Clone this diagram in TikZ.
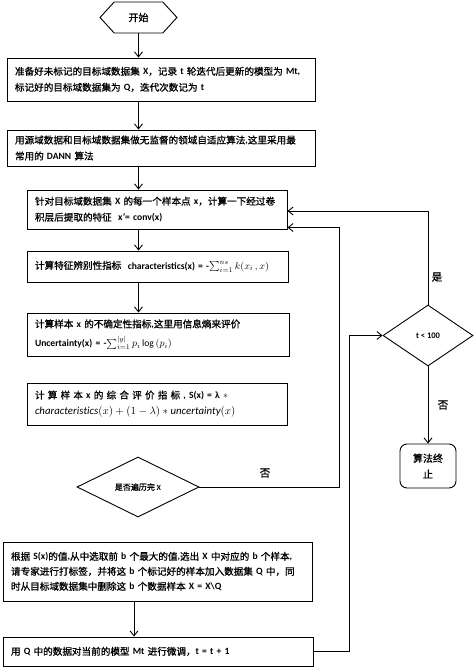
\documentclass[tikz,border=0pt]{standalone}
\usepackage{fontspec}
\setmainfont{Carlito}
\newfontfamily\zhf{Noto Sans CJK SC}[FakeBold=1]
\newcommand\zh[1]{{\zhf\mdseries #1}}
\usetikzlibrary{arrows.meta,shapes.geometric,shapes.symbols}
\tikzset{
  ln/.style={line width=0.9pt},
  arr/.style={ln,-{Straight Barb[length=5pt,width=8pt]}},
  box/.style={draw,ln,inner xsep=8pt,inner ysep=0pt,align=left,font=\fontsize{9.6}{16}\selectfont\bfseries},
  dia/.style={draw,ln,diamond,inner sep=0pt,font=\fontsize{8}{10}\selectfont\bfseries},
  lbl/.style={font=\fontsize{10.5}{12}\selectfont},
}
\begin{document}
\begin{tikzpicture}[x=1pt,y=-1pt]
\useasboundingbox (0,0) rectangle (474,669);
% start
\node[draw,ln,signal,signal to=east and west,signal pointer angle=95,minimum width=77pt,minimum height=31pt,inner sep=0pt,font=\fontsize{10}{12}\selectfont] (start) at (138.5,17.5) {\zh{开始}};
% boxes
\node[box,text width=292pt,minimum height=43pt] (b1) at (161,79.5)
 {\zh{准备好未标记的目标域数据集} X\zh{，记录} t \zh{轮迭代后更新的模型为} Mt,\\
  \zh{标记好的目标域数据集为} Q\zh{，迭代次数记为} t};
\node[box,text width=292pt,minimum height=36pt] (b2) at (161,148)
 {\zh{用源域数据和目标域数据集做无监督的领域自适应算法},\zh{这里采用最}\\
  \zh{常用的} DANN \zh{算法}};
\node[box,text width=244pt,minimum height=39pt] (b3) at (157,209.5)
 {\zh{针对目标域数据集} X \zh{的每一个样本点} x\zh{，计算一下经过卷}\\
  \zh{积层后提取的特征}\ \ x’= conv(x)};
\node[box,text width=245pt,minimum height=31pt] (b4) at (157.5,266.5)
 {\zh{计算特征辨别性指标}\ \ characteristics(x) = -$\sum_{i=1}^{ns} k(x_i\,,x)$};
\node[box,text width=246pt,minimum height=43pt,font=\fontsize{9.6}{19}\selectfont\bfseries] (b5) at (158,334.5)
 {\zh{计算样本} x \zh{的不确定性指标},\zh{这里用信息熵来评价}\\
  Uncertainty(x) = -$\sum_{i=1}^{|y|} p_i\log\,(p_i)$};
\node[box,text width=244pt,minimum height=42pt] (b6) at (157,404)
 {\makebox[244pt][s]{\zh{计} \zh{算} \zh{样} \zh{本} x \zh{的} \zh{综} \zh{合} \zh{评} \zh{价} \zh{指} \zh{标} , S(x) = λ $\ast$}\\
  {\fontsize{10.8}{16}\selectfont$\mathit{characteristics}(x)+(1-\lambda)\ast\mathit{uncertainty}(x)$}};
\node[dia,minimum width=122pt,minimum height=60pt,aspect=2] (d1) at (138,487) {\zh{是否遍历完} X};
\node[box,text width=293pt,minimum height=59pt,font=\fontsize{9.6}{15}\selectfont\bfseries] (b7) at (157.5,571.5)
 {\zh{根据} S(x)\zh{的值},\zh{从中选取前} b \zh{个最大的值},\zh{选出} X \zh{中对应的} b \zh{个样本},\\
  \zh{请专家进行打标签，并将这} b \zh{个标记好的样本加入数据集} Q \zh{中，同}\\
  \zh{时从目标域数据集中删除这} b \zh{个数据样本} X = X\textbackslash Q};
\node[box,text width=294pt,minimum height=29pt] (b8) at (158,651.5)
 {\zh{用} Q \zh{中的数据对当前的模型} Mt \zh{进行微调，}t = t + 1};
\node[dia,minimum width=90pt,minimum height=61pt,aspect=1.5,font=\fontsize{8.5}{10}\selectfont\bfseries] (d2) at (428,335.5) {t < 100};
\node[draw,ln,rounded corners=7pt,minimum width=56pt,minimum height=44pt,inner sep=0pt,align=center,font=\fontsize{10}{16}\selectfont] (term) at (428,466) {\zh{算法终}\\\zh{止}};
% labels
\node[lbl] (yes) at (437,277) {\zh{是}};
\node[lbl] (no2) at (443,405) {\zh{否}};
\node[lbl] (no1) at (265,473) {\zh{否}};
% connectors
\draw[arr] (start.south) -- (start.south |- b1.north);
\draw[arr] (start.south |- b1.south) -- (start.south |- b2.north);
\draw[arr] (start.south |- b2.south) -- (start.south |- b3.north);
\draw[arr] (start.south |- b3.south) -- (start.south |- b4.north);
\draw[arr] (start.south |- b4.south) -- (start.south |- b5.north);
\draw[arr] ([xshift=-23.5pt]b7.south) -- ([xshift=-23.5pt]b7.south |- b8.north);
\coordinate (c1) at (339,487);
\draw[arr] (d1.east) -- (c1) |- ([yshift=-18pt]b3.east);
\draw[arr] (d2.north) |- ([yshift=-1.5pt]b3.east);
\draw[arr] (d2.south) -- (term.north);
\coordinate (c2) at (349,651.5);
\draw[arr] (b8.east) -- (c2) |- (d2.west);
\end{tikzpicture}
\end{document}
